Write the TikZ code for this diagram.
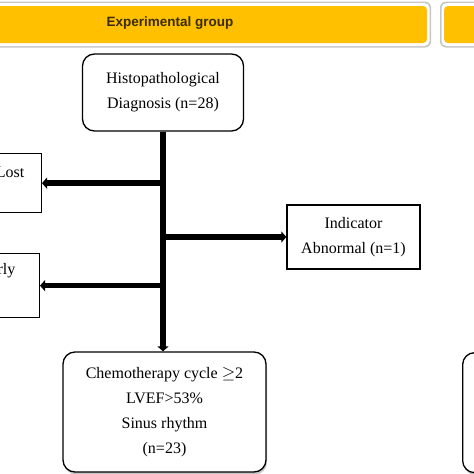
\documentclass[tikz,border=0pt]{standalone}
\usepackage{fontspec}
\setmainfont{Liberation Serif}
\newfontfamily\bannerfont{Liberation Sans}
\usetikzlibrary{positioning,arrows.meta,shadows}
\definecolor{bannerfill}{HTML}{FFC000}
\definecolor{bannertext}{HTML}{3A2C00}

\begin{document}
\begin{tikzpicture}[x=1pt,y=-1pt,
	roundbox/.style={draw, line width=1.3pt, rounded corners=12pt, fill=white, align=center, font=\fontsize{16}{25}\selectfont},
	plainbox/.style={draw, line width=1.3pt, fill=white, font=\fontsize{16}{25}\selectfont},
	boxshadow/.style={drop shadow={shadow xshift=1pt, shadow yshift=-2.5pt, opacity=0.45}},
	flow/.style={line width=5.5pt, -{Triangle[length=5pt,width=11pt]}}]
	
	\useasboundingbox (0,0) rectangle (474,474);
	\clip (0,0) rectangle (474,474);
	
	% group banners
	\fill[gray!45, rounded corners=6pt] (-20,1.5) rectangle (431,47.5);
	\fill[white, rounded corners=5pt] (-20,3) rectangle (429.5,46);
	\fill[bannerfill, rounded corners=4pt] (-20,6) rectangle (427,43);
	\fill[gray!45, rounded corners=6pt] (440,1.5) rectangle (520,47.5);
	\fill[white, rounded corners=5pt] (441.5,3) rectangle (520,46);
	\fill[bannerfill, rounded corners=4pt] (444,6) rectangle (520,43);
	\node[font=\bannerfont\bfseries\fontsize{13.5}{16}\selectfont, text=bannertext] (expgroup) at (170,23.5) {Experimental group};
	
	% boxes
	\node[roundbox, minimum width=161pt, minimum height=77pt] (histo) at (163,92.5) {Histopathological\\Diagnosis (n=28)};
	\node[plainbox, anchor=north east, minimum height=59pt, text width=85pt, align=right, inner xsep=17pt] (lost) at (42,153) {Lost\\[-10pt] \strut};
	\node[plainbox, anchor=north east, minimum height=64pt, text width=85pt, align=right, inner xsep=24pt] (early) at (40,253) {Early\\ \strut};
	\node[plainbox, align=center, minimum width=133pt, minimum height=64pt] (indicator) at (353.5,237) {Indicator\\Abnormal (n=1)};
	\node[roundbox, boxshadow, minimum width=203pt, minimum height=120pt] (chemo) at (164.5,412) {Chemotherapy cycle $\geq$2\\LVEF>53\%\\Sinus rhythm\\(n=23)};
	\node[roundbox, boxshadow, anchor=north west, minimum width=80pt, minimum height=120pt] (nextbox) at (462,352) {};
	
	% connectors
	\draw[flow] (histo.south) -- (histo.south |- chemo.north);
	\draw[flow] (histo.south |- lost.east) -- (lost.east);
	\draw[flow] (histo.south |- early.east) -- (early.east);
	\draw[flow] (histo.south |- indicator.west) -- (indicator.west);
\end{tikzpicture}
\end{document}
